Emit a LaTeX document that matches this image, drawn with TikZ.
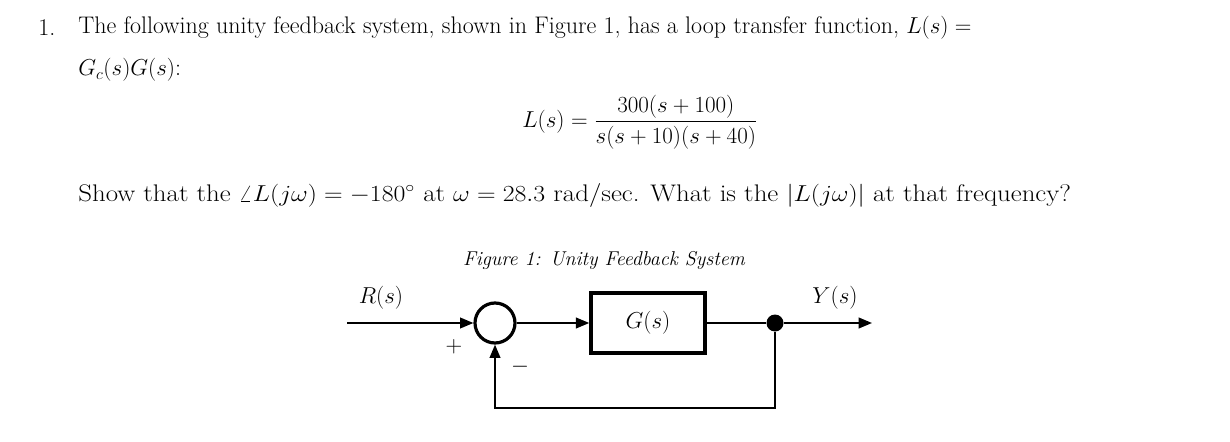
\documentclass[tikz,border=0pt]{standalone}
\usepackage{amsmath}
\usetikzlibrary{arrows.meta}
\begin{document}
\begin{tikzpicture}[x=0.75pt,y=-0.75pt,
  txt/.style={inner sep=0pt,font=\fontsize{18}{21}\selectfont},
  sm/.style={inner sep=0pt,font=\fontsize{15}{17}\selectfont},
  wire/.style={line width=1.4pt},
  arr/.style={wire,-{Triangle[length=10pt,width=8pt]}}]
\useasboundingbox (0,0) rectangle (1230,442);
\node[txt,anchor=west] (n1) at (38,28) {1.};
\node[txt,anchor=west] (l1) at (78,28) {The following unity feedback system, shown in Figure 1, has a loop transfer function, $L(s)=$};
\node[txt,anchor=west] (l2) at (78,70) {$G_c(s)G(s)$:};
\node[txt] (eq) at (640,122) {$L(s)=\dfrac{300(s+100)}{s(s+10)(s+40)}$};
\node[txt,anchor=west,xscale=1.12] (l3) at (78,195) {Show that the $\angle L(j\omega)=-180^\circ$ at $\omega=28.3$ rad/sec. What is the $|L(j\omega)|$ at that frequency?};
\node[sm] (cap) at (604,260) {\itshape Figure 1: Unity Feedback System};
\coordinate (in) at (347,323);
\node[draw,circle,line width=2.4pt,minimum size=40pt*0.75,inner sep=0pt] (sum) at (495,323) {};
\node[draw,line width=2.6pt,minimum width=114pt*0.75,minimum height=60pt*0.75] (G) at (648,323) {\fontsize{18}{21}\selectfont $G(s)$};
\node[fill,circle,inner sep=0pt,minimum size=17pt*0.75] (dot) at (775,323) {};
\coordinate (out) at (872,323);
\coordinate (bl) at (495,408);
\coordinate (br) at (775,408);
\node[txt] (R) at (381,298) {$R(s)$};
\node[txt] (Y) at (835,298) {$Y(s)$};
\node[txt] (plus) at (454,347) {$+$};
\node[txt] (minus) at (520,367) {$-$};
\draw[arr] (in) -- (sum.west);
\draw[arr] (sum.east) -- (G.west);
\draw[wire] (G.east) -- (dot);
\draw[arr] (dot) -- (out);
\draw[arr] (dot) -- (br) -- (bl) -- (sum.south);
\end{tikzpicture}
\end{document}
